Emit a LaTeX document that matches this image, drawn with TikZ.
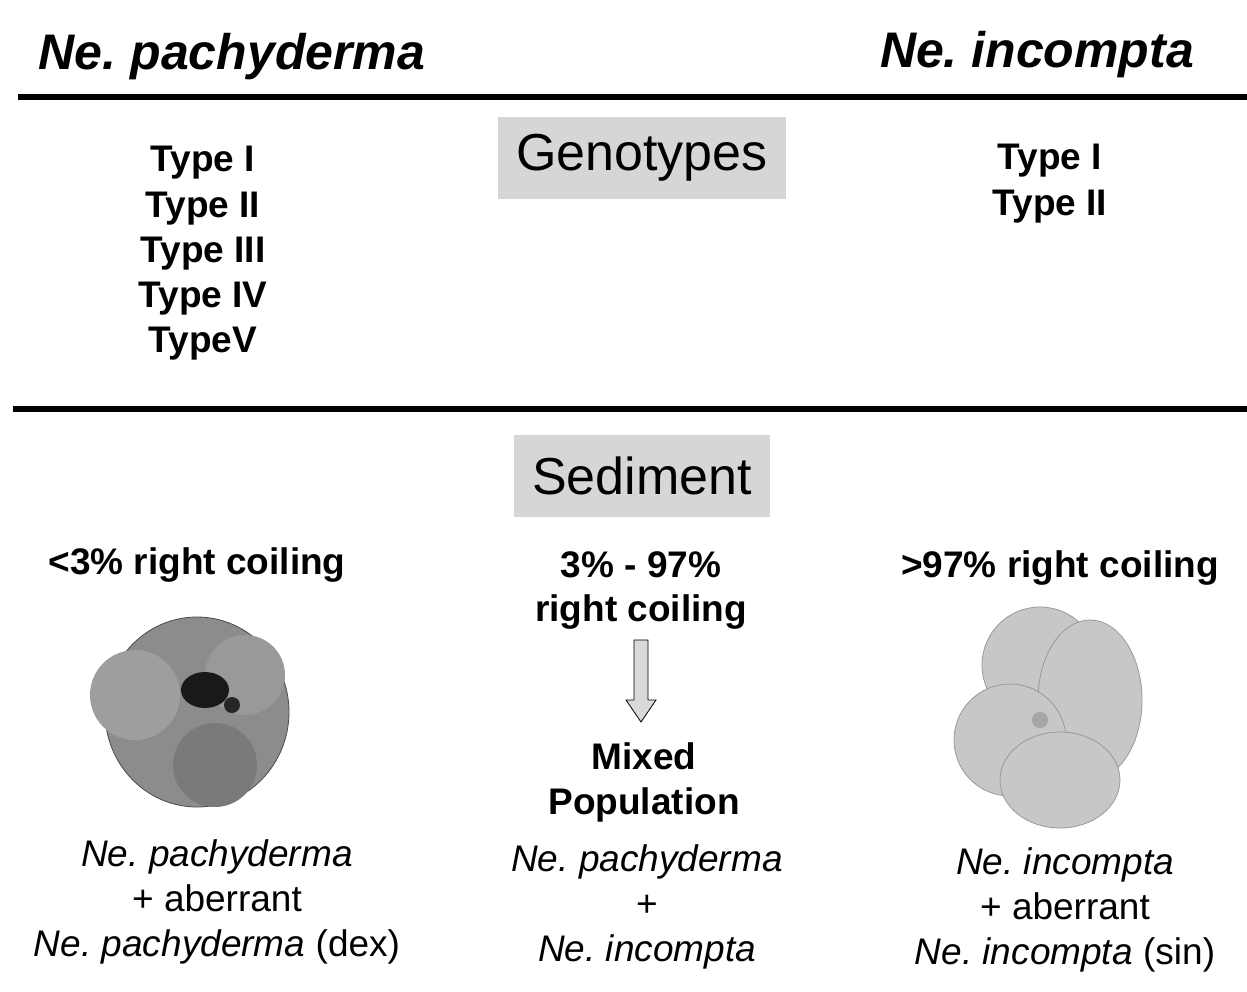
\documentclass[tikz,border=0pt]{standalone}
\usepackage{fontspec}
\setmainfont{Liberation Sans}
\frenchspacing
\begin{document}
\begin{tikzpicture}[x=0.5pt,y=-0.5pt,
  fix/.style={text height=13pt, text depth=4pt},
  ttl/.style={font=\fontsize{25}{26}\selectfont\bfseries\itshape, anchor=center},
  typ/.style={fix,font=\fontsize{18.5}{20}\selectfont\bfseries},
  hdr/.style={font=\fontsize{26}{28}\selectfont, fill=black!16, minimum width=144pt, minimum height=41pt},
  lbl/.style={fix,font=\fontsize{18.5}{20}\selectfont\bfseries},
  txt/.style={fix,font=\fontsize{18.5}{20}\selectfont},
  itx/.style={fix,font=\fontsize{18.5}{20}\selectfont\itshape},
  shellL/.style={fill=black!45, draw=black!70},
  shellR/.style={fill=black!22, draw=black!40}]
\useasboundingbox (0,0) rectangle (1247,991);
\node[ttl] (t1) at (232,57) {Ne. pachyderma};
\node[ttl] (t2) at (1037,55) {Ne. incompta};
\draw[line width=3pt] (18,97) -- (1247,97);
\draw[line width=3pt] (13,409) -- (1247,409);
\node[hdr] (geno) at (642,158) {Genotypes};
\node[hdr, minimum width=128pt] (sed) at (642,476) {Sediment};
\foreach \t/\y [count=\i] in {Type I/162,Type II/208,Type III/253,Type IV/298,TypeV/343}
  \node[typ] (l\i) at (203,\y) {\t};
\node[typ] (r1) at (1050,160) {Type I};
\node[typ] (r2) at (1050,206) {Type II};
\node[lbl] (a1) at (197,565) {<3\% right coiling};
\node[lbl] (m1) at (641,568) {3\% - 97\%};
\node[lbl] (m2) at (641,612) {right coiling};
\node[lbl] (c1) at (1060,568) {>97\% right coiling};
\node[lbl] (mx1) at (644,760) {Mixed};
\node[lbl] (mx2) at (644,805) {Population};
\draw[fill=black!15] (634,640) -- (648,640) -- (648,700) -- (656,700) -- (641,722) -- (626,700) -- (634,700) -- cycle;
% left shell
\fill[shellL] (197,712) ellipse (92 and 95);
\fill[black!38] (135,695) circle (45);
\fill[black!52] (215,765) circle (42);
\fill[black!40] (245,675) circle (40);
\fill[black!90] (205,690) ellipse (24 and 18);
\fill[black!85] (232,705) circle (8);
% right shell
\fill[shellR] (1040,665) circle (58);
\fill[shellR] (1090,700) ellipse (52 and 80);
\fill[shellR] (1010,740) circle (56);
\fill[shellR] (1060,780) ellipse (60 and 48);
\fill[black!35] (1040,720) circle (8);
\node[itx] (b1) at (217,857) {Ne. pachyderma};
\node[txt] (b2) at (217,902) {+ aberrant};
\node[txt] (b3) at (217,947) {\textit{Ne. pachyderma} (dex)};
\node[itx] (c2) at (647,862) {Ne. pachyderma};
\node[txt] (c3) at (647,907) {+};
\node[itx] (c4) at (647,952) {Ne. incompta};
\node[itx] (d1) at (1065,865) {Ne. incompta};
\node[txt] (d2) at (1065,910) {+ aberrant};
\node[txt] (d3) at (1065,955) {\textit{Ne. incompta} (sin)};
\end{tikzpicture}
\end{document}
